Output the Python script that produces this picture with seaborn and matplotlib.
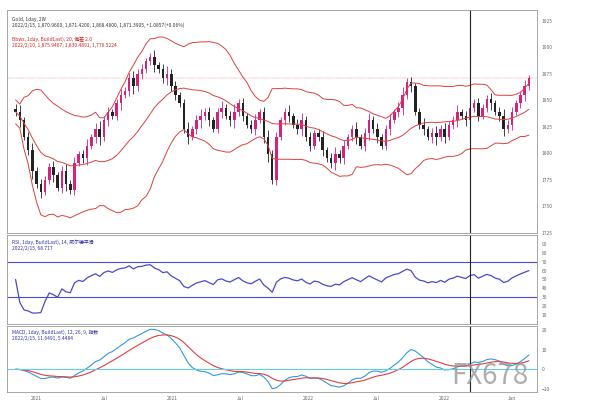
import numpy as np
import pandas as pd
import matplotlib.pyplot as plt
import seaborn as sns

# close prices (pixel y converted to price below)
close_px = [120,130,150,165,190,205,215,
            200,185,195,210,190,205,212,180,170,
            175,160,150,140,150,130,120,125,
            110,100,95,80,90,75,70,60,55,65,70,
            80,75,90,100,110,140,150,
            140,130,125,120,130,140,120,115,125,130,120,110,125,135,140,130,120,150,170,200,
            150,130,120,125,135,140,130,150,160,145,150,165,175,180,170,
            175,160,150,140,150,160,145,130,140,150,160,140,130,120,115,
            100,85,90,120,135,140,150,
            145,150,140,150,135,130,120,125,130,115,110,125,115,105,110,120,
            125,140,135,120,110,100,90,80]
close = [1871 - (y - 80) * 0.8 for y in close_px]
wick = [4, 6, 3, 5, 7, 4, 5, 3]
x_labels = ["2021", "Jul", "2021", "Jul", "2022", "Jul", "2022", "Jan"]

sns.set_theme(style="white")
plt.rcParams['font.family'] = ['Noto Sans CJK SC', 'DejaVu Sans']

s = pd.Series(close)
opens = s.shift(1).fillna(s.iloc[0] + 3)
n = len(s)
xs = np.arange(n)

mid = s.rolling(20, min_periods=1).mean()
sd = s.rolling(20, min_periods=2).std().bfill()
upper, lower = mid + 2 * sd, mid - 2 * sd

d = s.diff().fillna(0)
gain = d.clip(lower=0).ewm(alpha=1/14).mean() + 2
loss = (-d.clip(upper=0)).ewm(alpha=1/14).mean() + 2
rsi = 100 - 100 / (1 + gain / loss)

ema12 = s.ewm(span=12).mean()
ema26 = s.ewm(span=26).mean()
macd = ema12 - ema26
signal = macd.ewm(span=9).mean()

fig = plt.figure(figsize=(5.97, 4.08), dpi=100)
ax1 = fig.add_axes([0.012, 0.43, 0.888, 0.545])
ax2 = fig.add_axes([0.012, 0.205, 0.888, 0.22])
ax3 = fig.add_axes([0.012, 0.04, 0.888, 0.16])

for i in range(n):
    o, c = opens[i], s[i]
    col = "#d4237f" if c >= o else "#222222"
    w = wick[i % len(wick)]
    ax1.vlines(xs[i], min(o, c) - w, max(o, c) + w, color=col, lw=0.6)
    ax1.bar(xs[i], max(abs(c - o), 0.6), bottom=min(o, c), width=0.6, color=col, lw=0)
ax1.plot(xs, upper, color="#e04040", lw=0.7)
ax1.plot(xs, lower, color="#e04040", lw=0.7)
ax1.plot(xs, mid, color="#e04040", lw=0.7)
ax1.axhline(close[-1], color="#cc0000", lw=0.3, ls=":")
ax1.text(0.01, 0.97, "Gold, 1day, 2W\n2022/2/15, 1,870.9600, 1,871.4200, 1,868.4800, 1,871.3905, +1.0857(+0.06%)",
         transform=ax1.transAxes, fontsize=3.5, va="top", color="#333")
ax1.text(0.01, 0.88, "Bbws, 1day, BuildLast), 20, 偏差 2.0\n2022/2/10, 1,875.9467, 1,830.4891, 1,776.5224",
         transform=ax1.transAxes, fontsize=3.5, va="top", color="#d02020")
ax1.set_xlim(-2, n + 1)
ax1.set_ylim(1725, 1935)

ax2.plot(xs, rsi, color="#4a4acc", lw=0.9)
ax2.axhline(70, color="#4a4acc", lw=0.8)
ax2.axhline(30, color="#4a4acc", lw=0.8)
ax2.set_ylim(0, 100)
ax2.set_yticks([10, 20, 30, 40, 50, 60, 70, 80, 90])
ax2.set_xlim(-2, n + 1)
ax2.text(0.01, 0.95, "RSI, 1day, BuildLast), 14, 威尔德平滑\n2022/2/15, 68.717",
         transform=ax2.transAxes, fontsize=3.5, va="top", color="#3030a0")

ax3.plot(xs, macd, color="#3399dd", lw=0.8)
ax3.plot(xs, signal, color="#e04040", lw=0.8)
ax3.axhline(0, color="#66ccee", lw=0.8)
ax3.set_xlim(-2, n + 1)
ax3.text(0.01, 0.95, "MACD, 1day, BuildLast), 12, 26, 9, 指数\n2022/2/15, 11.6491, 5.4484",
         transform=ax3.transAxes, fontsize=3.5, va="top", color="#3030a0")

for ax in (ax1, ax2, ax3):
    ax.axvline(108, color="#222", lw=0.8)
    ax.yaxis.tick_right()
    ax.tick_params(labelsize=3.5, length=0, pad=3, colors="#666")
    for sp in ax.spines.values():
        sp.set_color("#999")
        sp.set_linewidth(0.6)
    ax.set_xticks([])
ax3.set_xticks(np.linspace(5, n - 5, len(x_labels)))
ax3.set_xticklabels(x_labels)
fig.text(0.885, 0.06, "FX678", fontsize=20, color="#999999", ha="right", alpha=0.8)
fig.savefig("out.png", dpi=100)
